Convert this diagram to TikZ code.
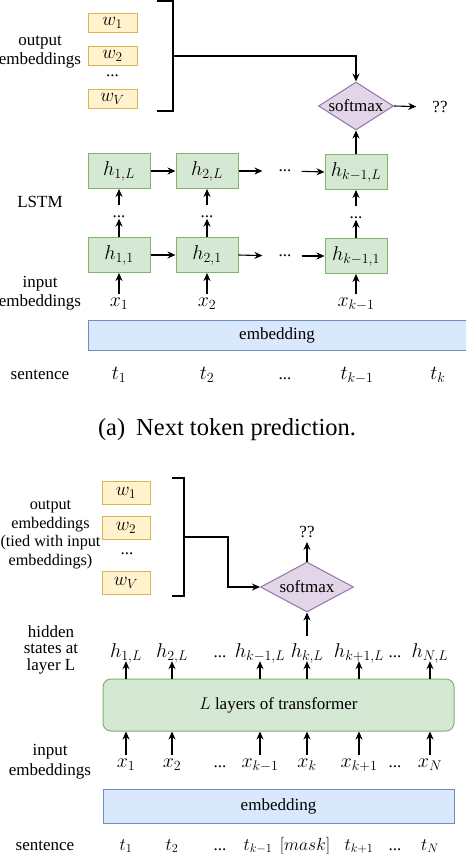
\RequirePackage{fix-cm}
\documentclass[tikz,border=0pt]{standalone}
\usepackage{fontspec}
\setmainfont{Liberation Serif}
\usetikzlibrary{shapes.geometric,arrows.meta}
\definecolor{gfill}{HTML}{D5E8D4}\definecolor{gdraw}{HTML}{82B366}
\definecolor{yfill}{HTML}{FFF2CC}\definecolor{ydraw}{HTML}{D6B656}
\definecolor{bfill}{HTML}{DAE8FC}\definecolor{bdraw}{HTML}{6C8EBF}
\definecolor{pfill}{HTML}{E1D5E7}\definecolor{pdraw}{HTML}{9673A6}
\begin{document}
\begin{tikzpicture}[x=1pt,y=-1pt,
  txt/.style={font=\fontsize{17}{19.5}\selectfont, inner sep=0pt},
  mth/.style={font=\fontsize{20}{22}\selectfont, inner sep=0pt},
  lbl/.style={txt, text height=12pt, text depth=4pt},
  mlbl/.style={mth, text height=12pt, text depth=4pt},
  slbl/.style={mlbl, font=\fontsize{17.5}{20}\selectfont},
  hlab/.style={mth, text height=21pt, text depth=4pt},
  vdots/.style={txt, text height=12pt, text depth=1pt},
  hbox/.style={mth, draw=gdraw, fill=gfill, line width=1pt, minimum width=62pt, minimum height=35pt},
  wbox/.style={mth, font=\fontsize{19}{21}\selectfont, draw=ydraw, fill=yfill, line width=1pt, minimum width=49pt, minimum height=19pt},
  wboxb/.style={wbox, minimum width=48pt, minimum height=23pt},
  smx/.style={txt, diamond, draw=pdraw, fill=pfill, line width=1pt},
  bar/.style={txt, draw=bdraw, fill=bfill, line width=1pt},
  arr/.style={-{Stealth[length=8pt,width=7pt]}, line width=1.1pt},
  brk/.style={line width=1.5pt},
  multi/.style={txt, align=center}
]
\useasboundingbox (0,0) rectangle (466,854);
\clip (0,0) rectangle (466,854);

% ---------------- part (a) ----------------
\node[wbox] (wa1) at (112.5,22.5) {$w_1$};
\node[wbox] (wa2) at (112.5,55.5) {$w_2$};
\node[txt]  (wad) at (112.5,76) {...};
\node[wbox] (waV) at (112.5,98.5) {$w_V$};
\node[multi] (oea) at (40,52) {output\\embeddings};

\coordinate (bta) at (173,1);
\coordinate (bba) at (173,111);
\coordinate (bma) at (173,56);
\draw[brk] (157,1) -- (bta) -- (bba) -- (157,111);

\node[smx, aspect=1.56, minimum width=75pt, minimum height=48pt] (sma) at (356,106) {softmax};
\node[txt] (qqa) at (440,107) {??};
\draw[arr] (bma) -| (sma.north);
\draw[arr, shorten >=16pt] (sma.east) -- (qqa.west);

\node[txt] (lstm) at (40,202) {LSTM};

\node[hbox] (a1L) at (119,171) {$h_{1,L}$};
\node[hbox] (a2L) at (207,171) {$h_{2,L}$};
\node[txt]  (aLd) at (285,171) {...};
\node[hbox] (akL) at (356,172) {$h_{k-1,L}$};

\node[hbox] (a11) at (119,255) {$h_{1,1}$};
\node[hbox] (a21) at (207,255) {$h_{2,1}$};
\node[txt]  (a1d) at (285,256) {...};
\node[hbox] (ak1) at (356,256) {$h_{k-1,1}$};

\node[vdots] (v1) at (119,212) {...};
\node[vdots] (v2) at (207,212) {...};
\node[vdots] (vk) at (356,213) {...};

\draw[arr] (a1L) -- (a2L);
\draw[arr, shorten >=16pt] (a2L.east) -- (aLd.west);
\draw[arr, shorten <=10pt] (aLd.east) -- (akL.west);
\draw[arr] (a11) -- (a21);
\draw[arr, shorten >=16pt] (a21.east) -- (a1d.west);
\draw[arr, shorten <=10pt] (a1d.east) -- (ak1.west);

\draw[arr] (a11.north) -- (v1.south);
\draw[arr] (v1.north) -- (a1L.south);
\draw[arr] (a21.north) -- (v2.south);
\draw[arr] (v2.north) -- (a2L.south);
\draw[arr] (ak1.north) -- (vk.south);
\draw[arr] (vk.north) -- (akL.south);
\draw[arr] (akL.north) -- (sma.south);

\node[multi] (iea) at (40,293) {input\\embeddings};
\node[mlbl] (ax1) at (119,302.5) {$x_1$};
\node[mlbl] (ax2) at (207,302.5) {$x_2$};
\node[mlbl] (axk) at (356,302.5) {$x_{k-1}$};
\draw[arr] (ax1.north) -- (a11.south);
\draw[arr] (ax2.north) -- (a21.south);
\draw[arr] (axk.north) -- (ak1.south);

\node[bar, minimum width=379.5pt, minimum height=30pt] (emba) at (277.75,335) {};
\node[txt] (embat) at (277,335) {embedding};

\node[lbl] (sena) at (40,375) {sentence};
\node[mlbl] (at1) at (119,375) {$t_1$};
\node[mlbl] (at2) at (207,375) {$t_2$};
\node[lbl] (atd) at (285,375) {...};
\node[mlbl] (atk1) at (357,375) {$t_{k-1}$};
\node[mlbl] (atk) at (438,375) {$t_k$};

\node[font=\fontsize{24.5}{28}\selectfont, inner sep=0pt] (capa) at (227,430) {(a)\hspace{0.45em}Next token prediction.};

% ---------------- part (b) ----------------
\node[wboxb] (wb1) at (126,492.5) {$w_1$};
\node[wboxb] (wb2) at (126,527.5) {$w_2$};
\node[txt]   (wbd) at (127,554) {...};
\node[wboxb] (wbV) at (126,582.5) {$w_V$};
\node[txt, align=center, font=\fontsize{16.2}{18.5}\selectfont] (oeb) at (50.5,534.5) {output\\embeddings\\(tied with input\\embeddings)};

\coordinate (btb) at (184,478);
\coordinate (bbb) at (184,596);
\coordinate (bmb) at (184,537);
\draw[brk] (172,478) -- (btb) -- (bbb) -- (172,596);

\node[smx, aspect=1.86, minimum width=93pt, minimum height=50pt] (smb) at (307,587) {softmax};
\node[txt] (qqb) at (307,532) {??};
\draw[arr] (bmb) -- ++(44,0) |- (smb.west);
\draw[arr, shorten >=4pt] (smb.north) -- (qqb.south);

\node[txt, align=center, font=\fontsize{17}{16.5}\selectfont] (hsl) at (51,649.5) {hidden\\states at\\layer L};

\node[hlab] (hb1) at (126,648.5) {$h_{1,L}$};
\node[hlab] (hb2) at (172,648.5) {$h_{2,L}$};
\node[txt, text height=21pt, text depth=4pt] (hbd1) at (220,648.5) {...};
\node[hlab] (hbk1) at (260,648.5) {$h_{k-1,L}$};
\node[hlab] (hbk) at (307,648.5) {$h_{k,L}$};
\node[hlab] (hbkp) at (359,648.5) {$h_{k+1,L}$};
\node[txt, text height=21pt, text depth=4pt] (hbd2) at (395,648.5) {...};
\node[hlab] (hbN) at (430,648.5) {$h_{N,L}$};
\draw[arr] (hbk.north) -- (smb.south);

\node[txt, draw=gdraw, fill=gfill, line width=1pt, rounded corners=8pt, minimum width=351pt, minimum height=52pt] (tr) at (278.5,705) {$L$ layers of transformer};

\foreach \n in {hb1,hb2,hbk1,hbk,hbkp,hbN}
  \draw[arr] (\n.south |- tr.north) -- (\n.south);

\node[multi] (ieb) at (50,761.5) {input\\embeddings};
\node[mlbl] (xb1) at (126,763) {$x_1$};
\node[mlbl] (xb2) at (172,763) {$x_2$};
\node[lbl] (xbd1) at (220,763) {...};
\node[mlbl] (xbk1) at (260,763) {$x_{k-1}$};
\node[mlbl] (xbk) at (307,763) {$x_k$};
\node[mlbl] (xbkp) at (359,763) {$x_{k+1}$};
\node[lbl] (xbd2) at (395,763) {...};
\node[mlbl] (xbN) at (430,763) {$x_N$};
\foreach \n in {xb1,xb2,xbk1,xbk,xbkp,xbN}
  \draw[arr] (\n.north) -- (\n.north |- tr.south);

\node[bar, minimum width=351pt, minimum height=34pt] (embb) at (278.5,806) {embedding};

\node[lbl] (senb) at (45,846) {sentence};
\node[slbl] (bt1) at (126,846) {$t_1$};
\node[slbl] (bt2) at (172,846) {$t_2$};
\node[lbl] (btd1) at (220,846) {...};
\node[slbl] (btk1) at (258,846) {$t_{k-1}$};
\node[slbl] (btm) at (305,846) {$[mask]$};
\node[slbl] (btkp) at (359,846) {$t_{k+1}$};
\node[lbl] (btd2) at (395,846) {...};
\node[slbl] (btN) at (430,846) {$t_N$};
\end{tikzpicture}
\end{document}
